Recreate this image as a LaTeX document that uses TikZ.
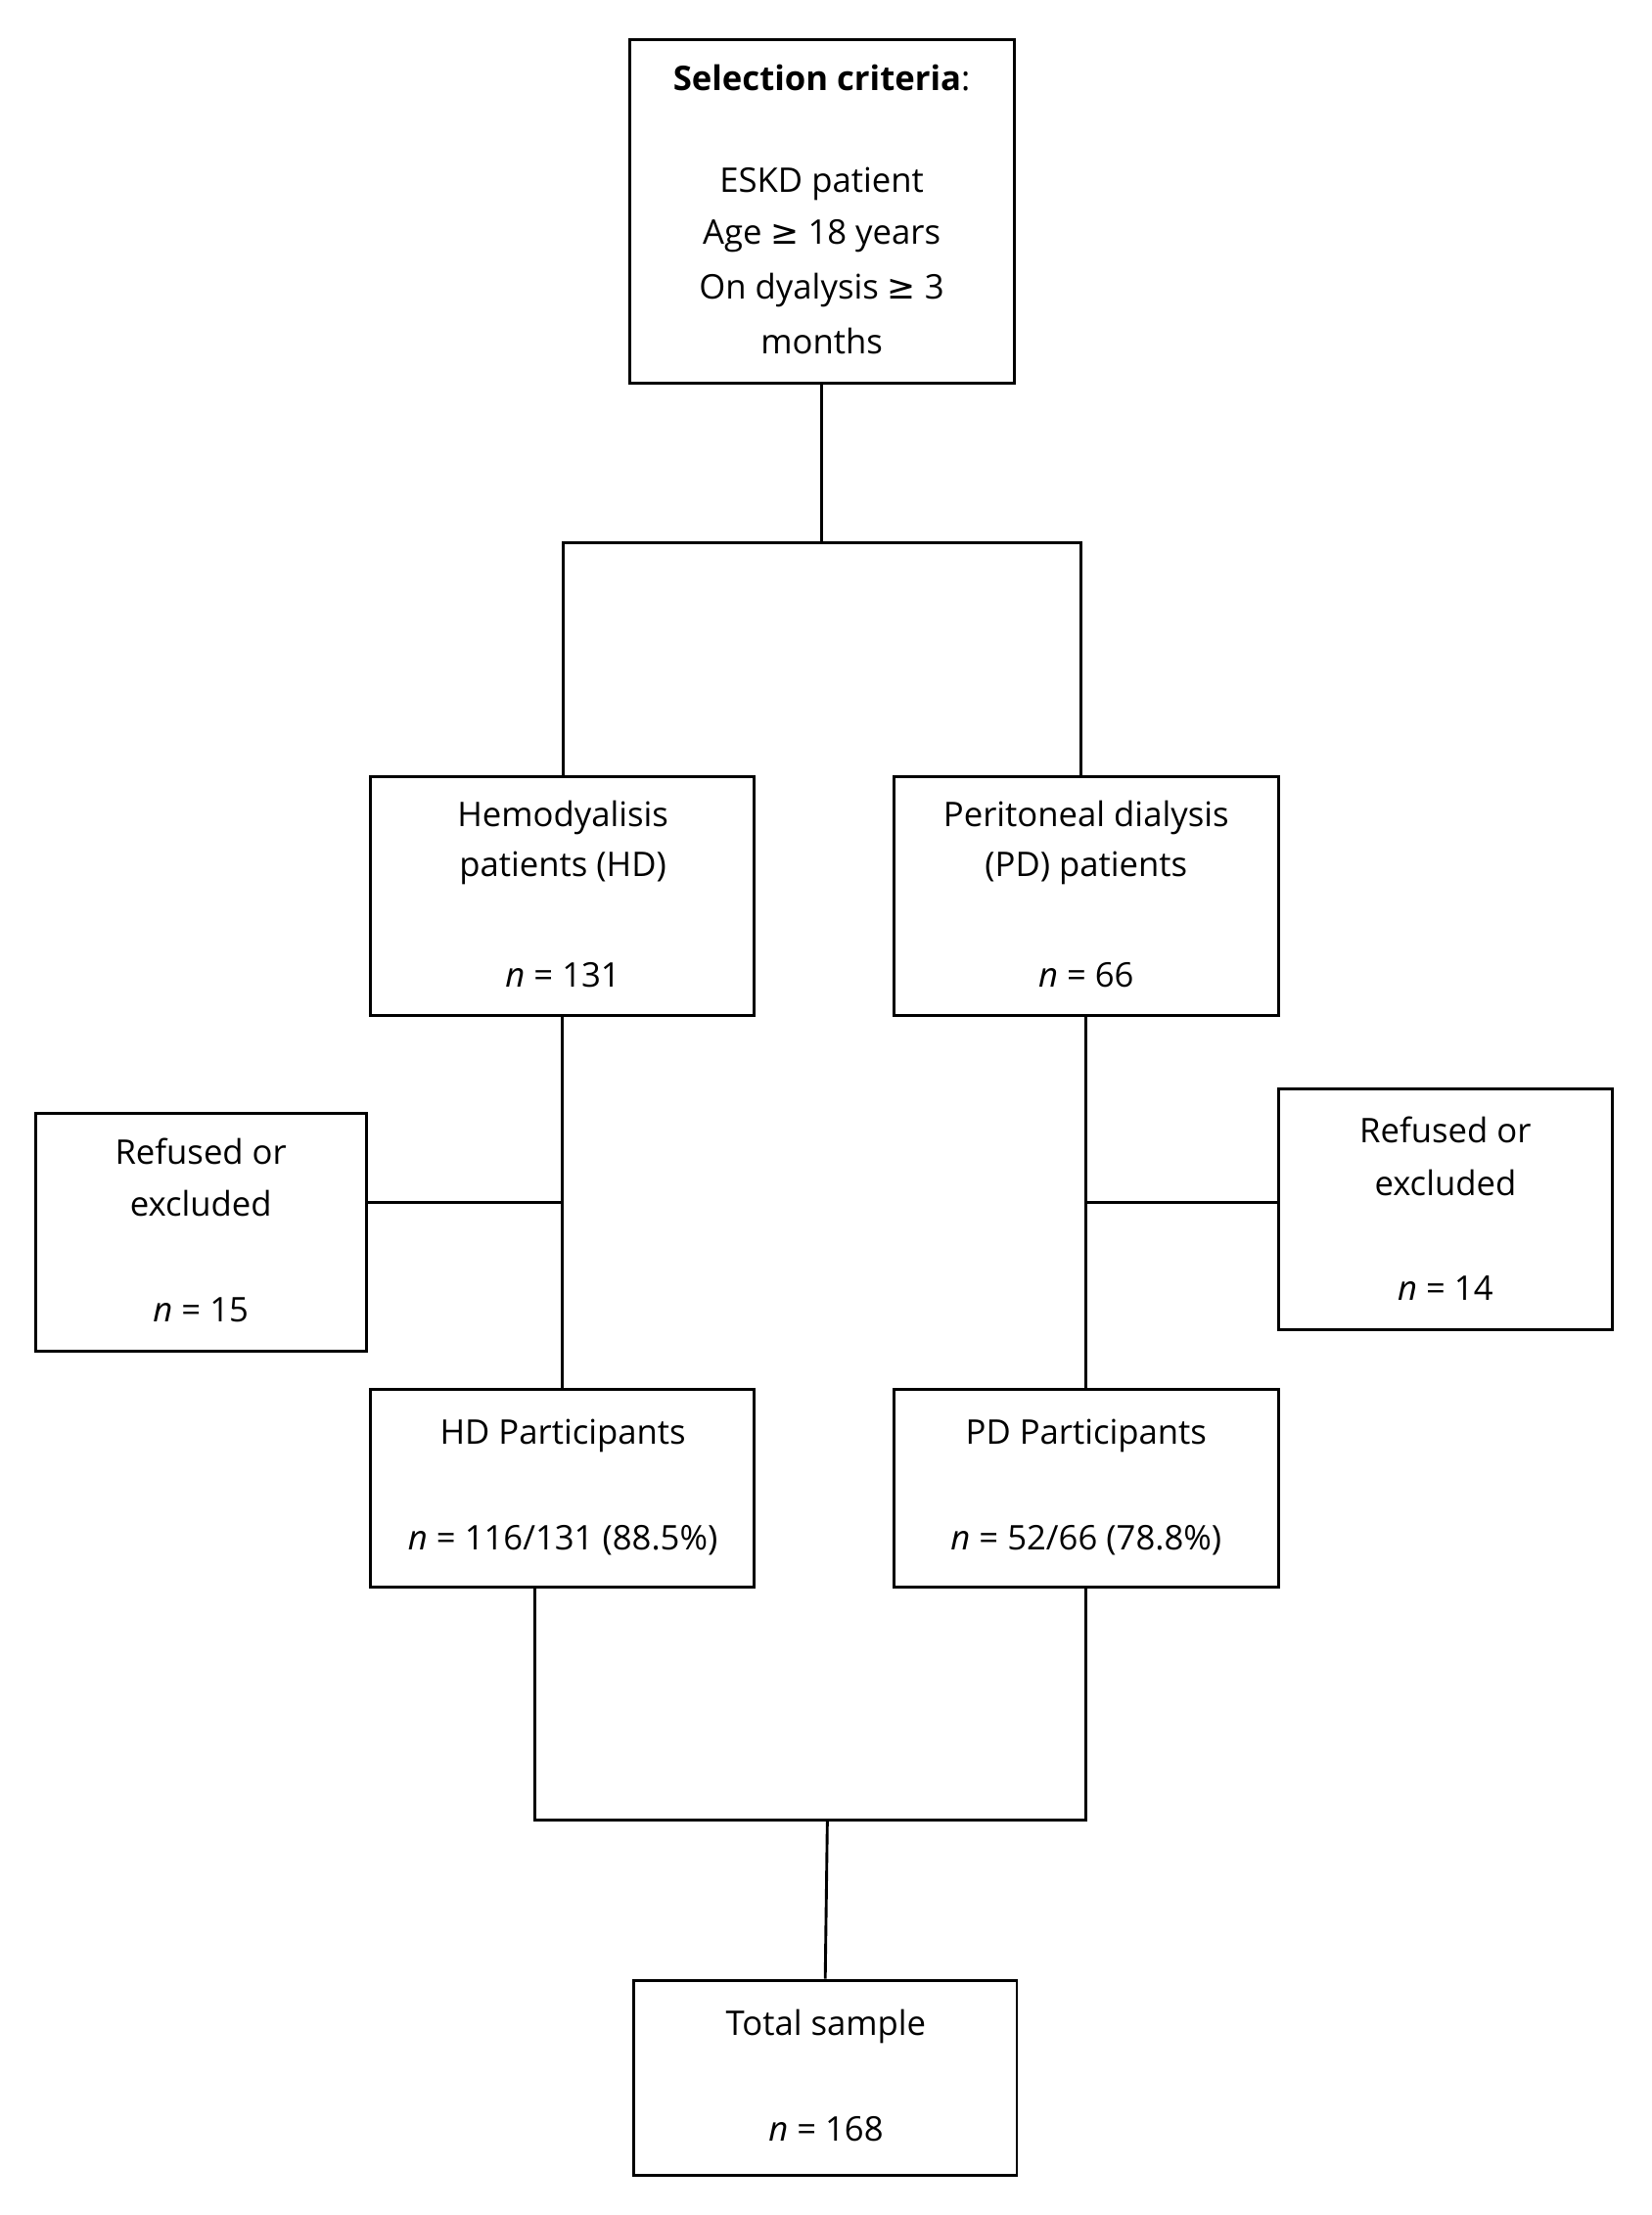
\documentclass[tikz,border=0pt]{standalone}
\usepackage{fontspec}
\setmainfont{Open Sans}
\newfontfamily\symf{DejaVu Sans}
\newcommand{\GE}{{\symf ≥}}
\begin{document}
\begin{tikzpicture}[x=1pt,y=-1pt,
  box/.style={draw,line width=2pt,inner sep=0},
  txt/.style={font=\fontsize{24}{37}\selectfont,align=center,inner sep=0},
  ln/.style={line width=2pt}]
\useasboundingbox (0,0) rectangle (1168,1566);
\newcommand{\bx}[5]{\node[box,minimum width=#3-#2,minimum height=#5-#4] (#1) at ({(#2+#3)/2},{(#4+#5)/2}) {};}
\bx{top}{445}{717}{28}{271}
\bx{hd}{262}{533}{549}{718}
\bx{pd}{632}{904}{549}{718}
\bx{rl}{25}{259}{787}{955}
\bx{rr}{904}{1140}{770}{940}
\bx{hdp}{262}{533}{982}{1122}
\bx{pdp}{632}{904}{982}{1122}
\bx{tot}{448}{719}{1400}{1538}
\node[txt] (t1) at (581,55) {\textbf{Selection criteria}:};
\node[txt] (t2) at (581,130) {ESKD patient};
\node[txt] (t3) at (581,167) {Age \GE{} 18 years};
\node[txt] (t4) at (581,205) {On dyalysis \GE{} 3};
\node[txt] (t5) at (581,241) {months};
\node[txt] (h1) at (398,578) {Hemodyalisis};
\node[txt] (h2) at (398,614) {patients (HD)};
\node[txt] (h3) at (398,689) {\textit{n} = 131};
\node[txt] (p1) at (768,578) {Peritoneal dialysis};
\node[txt] (p2) at (768,614) {(PD) patients};
\node[txt] (p3) at (768,689) {\textit{n} = 66};
\node[txt] (l1) at (142,814) {Refused or};
\node[txt] (l2) at (142,851) {excluded};
\node[txt] (l3) at (142,926) {\textit{n} = 15};
\node[txt] (r1) at (1022,799) {Refused or};
\node[txt] (r2) at (1022,836) {excluded};
\node[txt] (r3) at (1022,911) {\textit{n} = 14};
\node[txt] (a1) at (398,1015) {HD Participants};
\node[txt] (a2) at (398,1089) {\textit{n} = 116/131 (88.5\%)};
\node[txt] (b1) at (768,1015) {PD Participants};
\node[txt] (b2) at (768,1089) {\textit{n} = 52/66 (78.8\%)};
\node[txt] (c1) at (584,1433) {Total sample};
\node[txt] (c2) at (584,1505) {\textit{n} = 168};
\coordinate (j1) at (581,384);
\coordinate (jh) at (398,850);
\coordinate (jp) at (768,850);
\coordinate (bl) at (378,1287);
\coordinate (br) at (768,1287);
\coordinate (bm) at (585,1287);
\draw[ln] (top.south) -- (j1);
\draw[ln] (398,549) |- (j1) -| (764,549);
\draw[ln] (hd.south) -- (hdp.north);
\draw[ln] (pd.south) -- (pdp.north);
\draw[ln] (jh) -- (rl.east |- jh);
\draw[ln] (jp) -- (rr.west |- jp);
\draw[ln] (378,1122) -- (bl) -- (br) -- (768,1122);
\draw[ln] (bm) -- (tot.north);
\end{tikzpicture}
\end{document}
